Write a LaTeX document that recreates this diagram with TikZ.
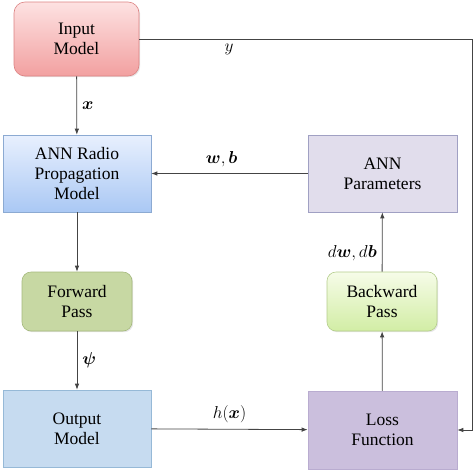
\documentclass[tikz,border=0pt]{standalone}
\usepackage{fontspec}
\usepackage{amsmath,bm}
\setmainfont{Liberation Serif}
\usetikzlibrary{arrows.meta,shadows}
\definecolor{linec}{HTML}{444444}
\tikzset{
  box/.style={draw, line width=0.6pt, align=center, inner sep=2pt,
    font=\fontsize{17.5}{20}\selectfont, text=black,
    drop shadow={shadow xshift=1.2pt, shadow yshift=-1.2pt, opacity=0.2}},
  wide/.style={box, minimum width=148pt, minimum height=77pt},
  small/.style={box, minimum width=110pt, minimum height=59pt, rounded corners=9pt},
  conn/.style={draw=linec, line width=0.8pt, -{Latex[length=6pt,width=4.5pt]}},
  plain/.style={draw=linec, line width=0.8pt},
  lbl/.style={font=\fontsize{17.5}{20}\selectfont, inner sep=0pt}
}
\begin{document}
\begin{tikzpicture}[x=1pt,y=1pt]
\useasboundingbox (0,0) rectangle (474,-472);
\node[box, minimum width=125pt, minimum height=74pt, rounded corners=11pt,
  draw={rgb,255:red,220;green,130;blue,130},
  top color={rgb,255:red,253;green,226;blue,226}, bottom color={rgb,255:red,242;green,160;blue,160}] (inp) at (76.5,-39) {Input\\Model};
\node[wide, draw={rgb,255:red,140;green,170;blue,210},
  top color={rgb,255:red,232;green,240;blue,254}, bottom color={rgb,255:red,170;green,200;blue,244}] (ann) at (77,-173.5) {ANN Radio\\Propagation\\Model};
\node[small, draw={rgb,255:red,165;green,185;blue,125}, fill={rgb,255:red,199;green,216;blue,163}] (fwd) at (77,-301.5) {Forward\\Pass};
\node[wide, draw={rgb,255:red,150;green,185;blue,215}, fill={rgb,255:red,198;green,219;blue,240}] (out) at (77,-428.5) {Output\\Model};
\node[wide, minimum width=149pt, draw={rgb,255:red,160;green,160;blue,195}, fill={rgb,255:red,225;green,221;blue,236}] (par) at (382.5,-173.5) {ANN\\Parameters};
\node[small, draw={rgb,255:red,180;green,205;blue,140}, top color={rgb,255:red,246;green,252;blue,232}, bottom color={rgb,255:red,210;green,237;blue,165}] (bwd) at (382,-301.5) {Backward\\Pass};
\node[wide, minimum width=149pt, minimum height=78pt, draw={rgb,255:red,185;green,172;blue,208}, fill={rgb,255:red,203;green,191;blue,221}] (loss) at (382.5,-430) {Loss\\Function};

\coordinate (c1) at (472,-39);
\coordinate (c2) at (472,-430);

\draw[conn] (inp) -- node[lbl, right=5pt] {$\bm{x}$} (ann);
\draw[conn] (ann) -- (fwd);
\draw[conn] (fwd) -- node[lbl, right=5pt] {$\bm{\psi}$} (out);
\draw[conn] (out) -- node[lbl, above=6pt] {$h(\bm{x})$} (loss);
\draw[conn] (loss) -- (bwd);
\draw[conn] (bwd) -- node[lbl, left=5pt, pos=0.32] {$d\bm{w},d\bm{b}$} (par);
\draw[conn] (par) -- node[lbl, above=6pt, pos=0.55] {$\bm{w},\bm{b}$} (ann);
\draw[plain] (inp.east) -- node[lbl, below=5pt, pos=0.27] {$y$} (c1);
\draw[conn] (c1) -- (c2) -- (loss.east);
\end{tikzpicture}
\end{document}
